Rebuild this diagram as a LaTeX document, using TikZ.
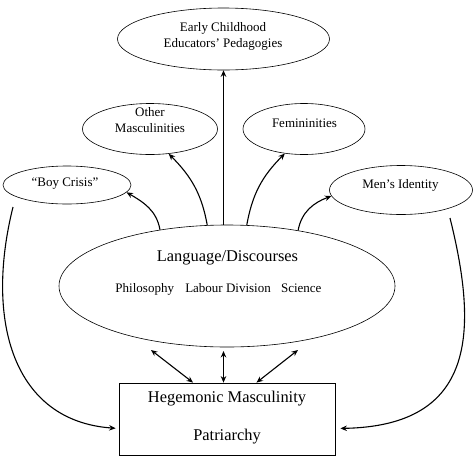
\documentclass[tikz,border=0pt]{standalone}
\usepackage{fontspec}
\setmainfont{Liberation Serif}
\usetikzlibrary{shapes.geometric,arrows.meta}

\begin{document}
\begin{tikzpicture}[x=1pt,y=1pt,>={Stealth[length=6.5pt,width=5.5pt]}]

        \useasboundingbox (0,0) rectangle (474,-456);

        \begin{scope}[every node/.style={ellipse,draw,line width=.6pt,inner sep=0pt}]
          \node[minimum width=212pt,minimum height=62pt]  (early)  at (223.5,-39) {};
          \node[minimum width=135pt,minimum height=51pt]  (other)  at (150,-129) {};
          \node[minimum width=122pt,minimum height=51pt]  (fem)    at (304,-129) {};
          \node[minimum width=128pt,minimum height=38pt]  (crisis) at (67,-185)  {};
          \node[minimum width=143pt,minimum height=49pt]  (men)    at (401,-190) {};
          \node[minimum width=336pt,minimum height=122pt] (lang)   at (227,-286) {};
        \end{scope}

        \node[draw,line width=.8pt,minimum width=216pt,minimum height=72pt,inner sep=0pt] (hm) at (227,-419) {};

        \begin{scope}[every node/.style={font=\fontsize{13}{16}\selectfont,align=center}]
          \node (earlyT)  at (223,-36)    {Early Childhood\\Educators’ Pedagogies};
          \node (otherT)  at (150,-120.5) {Other\\Masculinities};
          \node (femT)    at (304.5,-123) {Femininities};
          \node (crisisT) at (65,-184)    {“Boy Crisis”};
          \node (menT)    at (400.5,-185) {Men’s Identity};
          \node (philT)   at (218.5,-289) {Philosophy\hspace{8pt} Labour Division\hspace{7pt} Science};
        \end{scope}

        \begin{scope}[every node/.style={font=\fontsize{16.4}{19}\selectfont}]
          \node (langT) at (227.5,-258) {Language/Discourses};
          \node (hmT)   at (227,-399)   {Hegemonic Masculinity};
          \node (patT)  at (227,-437)   {Patriarchy};
        \end{scope}

        % free ends of the connectors
        \coordinate (lft) at (13,-207);
        \coordinate (rgt) at (450,-218);
        \coordinate (dl)  at (151,-350);
        \coordinate (dm)  at (223.5,-351);
        \coordinate (dr)  at (298,-350);

        \begin{scope}[every edge/.style={draw,->,line width=1.1pt}]
          \path (lang.north -| early.south) edge (early.south);
          \path (lang.108) edge[out=100,in=-45] (other.-53);
          \path (lang.72)  edge[out=80,in=-135] (fem.-128);
          \path (lang.140) edge[out=100,in=-30] (crisis.-7);
          \path (lang.38)  edge[out=80,in=-160] (men.185);

          \path (lft) edge[out=-104,in=176,out looseness=1.22,in looseness=1.1,shorten >=3pt] (hm.185);
          \path (rgt) edge[out=-76,in=1,out looseness=1.25,in looseness=1.5,shorten >=5pt] (hm.-5);

          \path (dl) edge[<->] (hm.133);
          \path (dm) edge[<->] (dm |- hm.north);
          \path (dr) edge[<->] (hm.51);
        \end{scope}

      \end{tikzpicture}
\end{document}
